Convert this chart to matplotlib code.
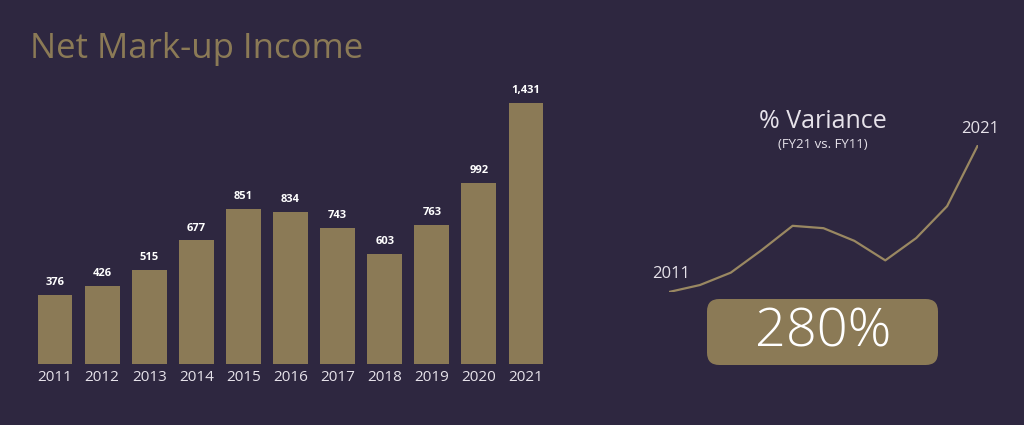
import matplotlib
matplotlib.use('Agg')
import matplotlib.pyplot as plt
from matplotlib.patches import FancyBboxPatch

years = ['2011', '2012', '2013', '2014', '2015', '2016',
         '2017', '2018', '2019', '2020', '2021']
income = [376, 426, 515, 677, 851, 834, 743, 603, 763, 992, 1431]
variance_label = '280%'

bg = '#2e2740'
gold = '#8b7a56'
light = '#e6e2ea'

plt.rcParams['font.family'] = ['Open Sans', 'DejaVu Sans']

W, H = 1024, 425
fig = plt.figure(figsize=(W / 100, H / 100), dpi=100, facecolor=bg)


def fx(px):
    return px / W


def fy(py):
    return 1 - py / H


# bar chart
ax = fig.add_axes([fx(30), fy(364), fx(521), 292 / H])
ax.set_facecolor(bg)
xpos = range(len(years))
bars = ax.bar(xpos, income, width=0.74, color=gold)
ax.set_xlim(-0.53, 10.53)
ax.set_ylim(0, 1600)
for b, v in zip(bars, income):
    ax.annotate('{:,}'.format(v), (b.get_x() + b.get_width() / 2, v),
                xytext=(0, 5), textcoords='offset points',
                ha='center', va='bottom', color='white',
                fontsize=8, fontweight='bold')
ax.set_xticks(list(xpos))
ax.set_xticklabels(years, color=light, fontsize=11)
ax.tick_params(axis='x', length=0, pad=4)
ax.set_yticks([])
for s in ax.spines.values():
    s.set_visible(False)

fig.text(fx(30), fy(49), 'Net Mark-up Income', color=gold, fontsize=25,
         ha='left', va='center')

# variance line
ax2 = fig.add_axes([fx(669), fy(292), fx(309), 147 / H])
ax2.set_facecolor('none')
ax2.plot(list(xpos), income, color='#9a8862', lw=1.6)
ax2.set_xlim(0, len(years) - 1)
ax2.set_ylim(income[0], income[-1])
ax2.axis('off')

fig.text(fx(671), fy(274), years[0], color=light, fontsize=12,
         ha='center', va='center')
fig.text(fx(980), fy(129), years[-1], color=light, fontsize=12,
         ha='center', va='center')
fig.text(fx(823), fy(121), '% Variance', color=light, fontsize=18,
         ha='center', va='center')
fig.text(fx(823), fy(144), '(FY21 vs. FY11)', color=light, fontsize=9.5,
         ha='center', va='center')

box = FancyBboxPatch((fx(707), fy(365)), fx(231), 66 / H,
                     boxstyle='round,pad=0,rounding_size=0.012',
                     transform=fig.transFigure, facecolor=gold,
                     edgecolor='none', mutation_aspect=W / H)
fig.patches.append(box)
fig.text(fx(823), fy(333), variance_label, color='white', fontsize=39,
         fontweight='light', ha='center', va='center')

fig.savefig('out.png', dpi=100, facecolor=bg)
